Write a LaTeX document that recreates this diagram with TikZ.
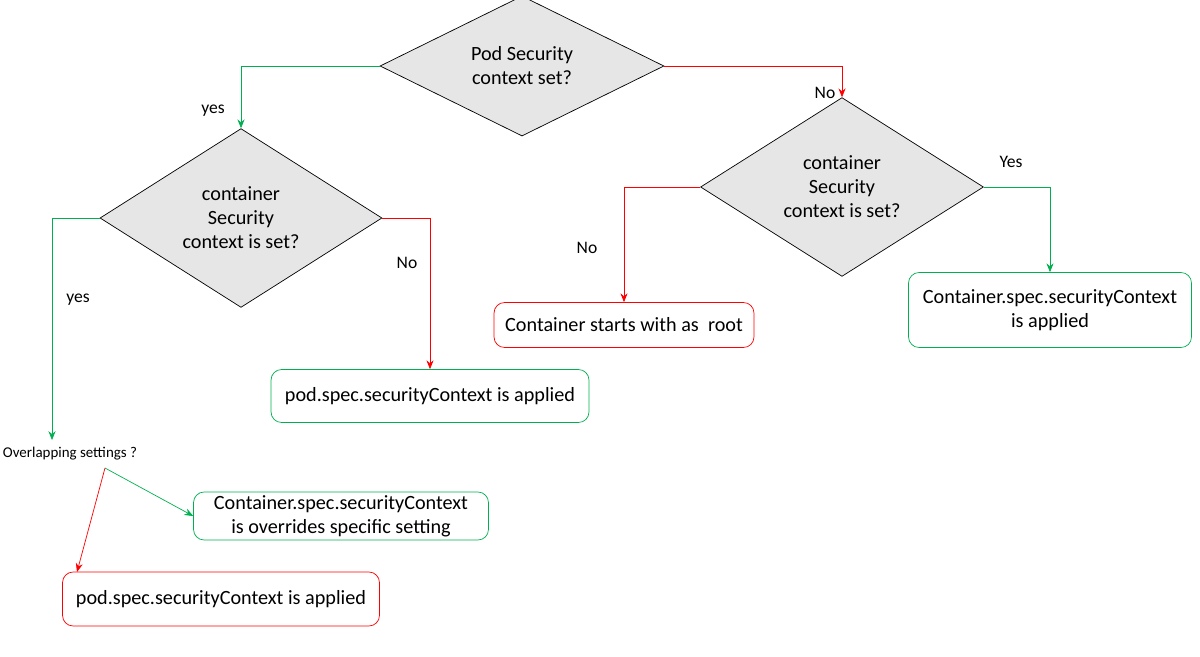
\documentclass[tikz,border=0pt]{standalone}
\usepackage{fontspec}
\setmainfont{Carlito}
\usetikzlibrary{shapes.geometric,arrows.meta}
\definecolor{okgreen}{RGB}{0,176,80}
\definecolor{nored}{RGB}{255,0,0}
\definecolor{diagray}{RGB}{230,230,230}
\begin{document}
\begin{tikzpicture}[x=0.02cm,y=-0.02cm,>={Stealth[length=5pt,width=4pt]},font=\fontsize{11.5}{13.6}\selectfont]
    \tikzstyle{decision}=[diamond,draw=black,fill=diagray,inner sep=0pt,align=center]
    \tikzstyle{result}=[rectangle,rounded corners=6pt,draw,thin,align=center,inner sep=0pt]
    \tikzstyle{good}=[result,draw=okgreen]
    \tikzstyle{bad}=[result,draw=nored]
    \tikzstyle{yesline}=[->,draw=okgreen]
    \tikzstyle{noline}=[->,draw=nored]
    \tikzstyle{annot}=[font=\fontsize{10}{12}\selectfont]

    \useasboundingbox (0,0) rectangle (1200,656);

    % Decisions
    \node[decision,minimum width=5.68cm,minimum height=2.24cm] (pod) at (522,66) {Pod Security\\context set?};
    \node[decision,minimum width=5.64cm,minimum height=2.12cm] (cyes) at (241,218) {container\\Security\\context is set?};
    \node[decision,minimum width=5.66cm,minimum height=2.2cm] (cno) at (842,187) {container\\Security\\context is set?};

    % Results
    \node[good,minimum width=6.36cm,minimum height=1.06cm] (podapp) at (430,396) {pod.spec.securityContext is applied};
    \node[bad,minimum width=5.2cm,minimum height=0.9cm] (root) at (624,325) {Container starts with as\ \ root};
    \node[good,minimum width=5.66cm,minimum height=1.5cm] (capp) at (1050,310) {Container.spec.securityContext\\is applied};
    \node[annot,font=\fontsize{8.5}{10}\selectfont] (overlap) at (70,454) {Overlapping settings ?};
    \node[good,minimum width=5.9cm,minimum height=0.96cm] (cover) at (341,516) {Container.spec.securityContext\\is overrides specific setting};
    \node[bad,minimum width=6.34cm,minimum height=1.08cm] (podapp2) at (221,599) {pod.spec.securityContext is applied};

    % Connect the decisions
    \draw[yesline] (pod.west) -| (cyes.north);
    \draw[noline] (pod.east) -| (cno.north);
    \coordinate (ovtop) at (52,440);
    \draw[yesline] (cyes.west) -| (ovtop);
    \draw[noline] (cyes.east) -| (podapp.north);
    \draw[noline] (cno.west) -| (root.north);
    \draw[yesline] (cno.east) -| (capp.north);

    % Overlapping settings
    \coordinate (split) at (105,468);
    \coordinate (redend) at (77,572);
    \draw[yesline] (split) -- (cover.west);
    \draw[noline] (split) -- (redend);

    % Annotate the branches
    \node[annot] at (213,111) {yes};
    \node[annot] at (825,93) {No};
    \node[annot] at (78,300) {yes};
    \node[annot] at (407,263) {No};
    \node[annot] at (587,248) {No};
    \node[annot] at (1011,162) {Yes};
\end{tikzpicture}
\end{document}
